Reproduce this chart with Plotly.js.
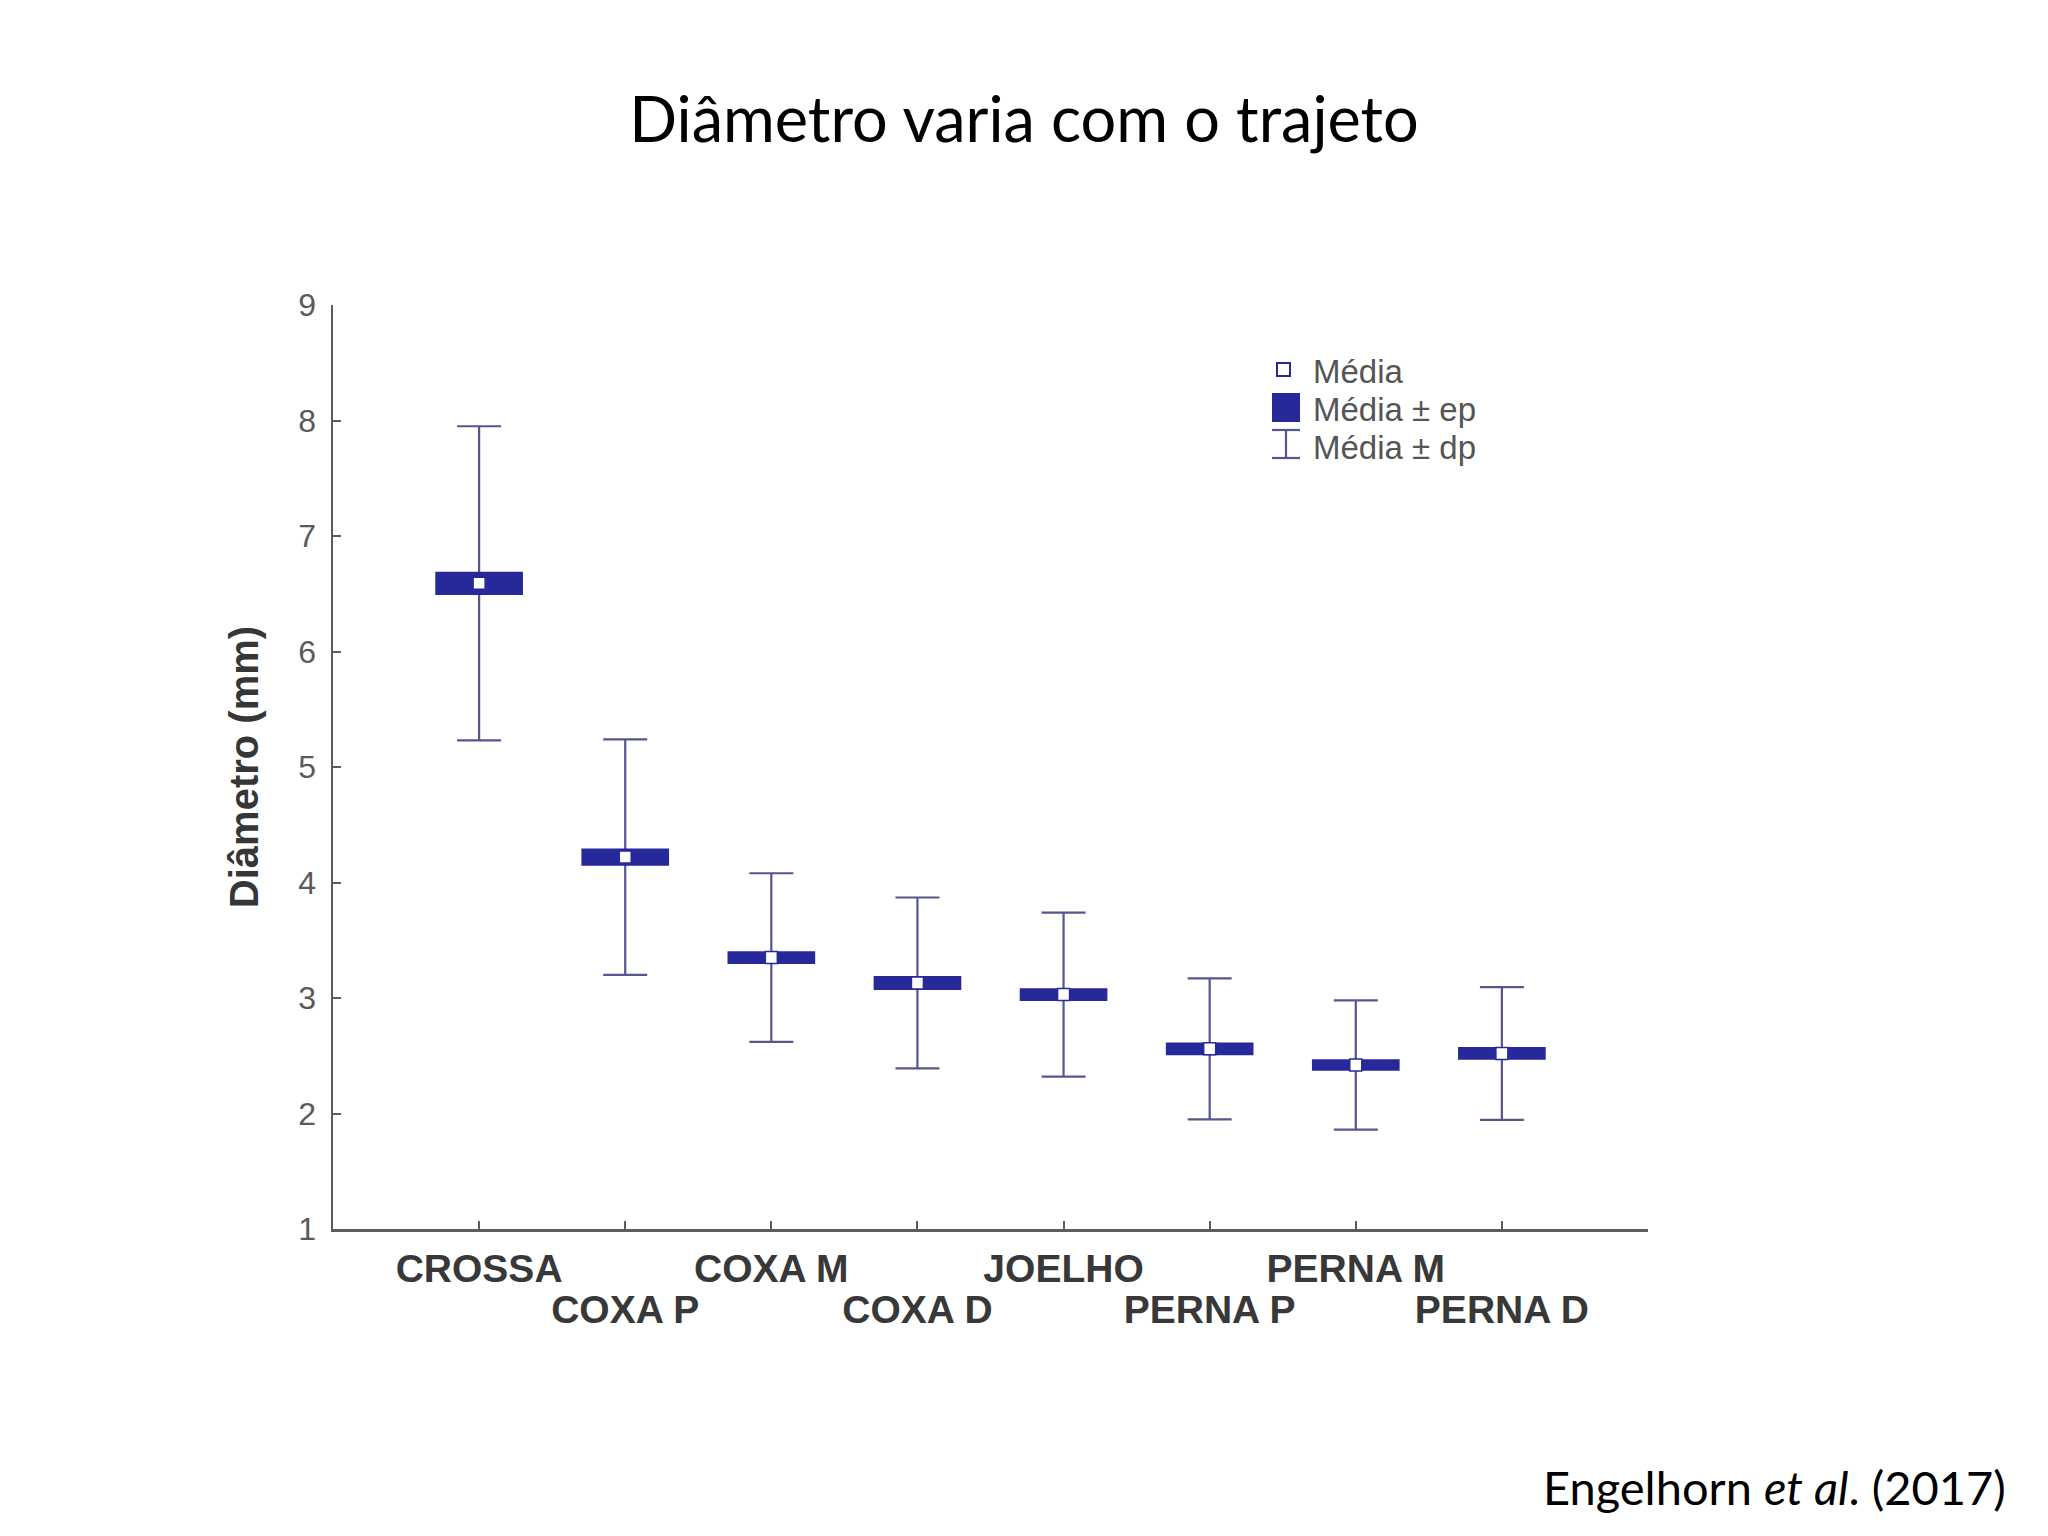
<!DOCTYPE html>
<html>
<head>
<meta charset="utf-8">
<script src="https://cdn.plot.ly/plotly-3.0.1.min.js"></script>
<style>
  html, body { margin: 0; padding: 0; background: #ffffff; }
  #grafico { width: 2048px; height: 1536px; }
</style>
</head>
<body>
<div id="grafico"></div>
<script>
// Segmentos do trajeto venoso
const categorias = ['CROSSA', 'COXA P', 'COXA M', 'COXA D', 'JOELHO', 'PERNA P', 'PERNA M', 'PERNA D'];
// Diâmetro médio (mm)
const media = [6.59, 4.22, 3.35, 3.13, 3.03, 2.56, 2.42, 2.52];
// Erro padrão (ep) e desvio padrão (dp), em mm
const erroPadrao = [0.10, 0.075, 0.055, 0.06, 0.055, 0.055, 0.05, 0.055];
const desvioPadrao = [1.36, 1.02, 0.73, 0.74, 0.71, 0.61, 0.56, 0.575];
// Marcas do eixo y
const ticksY = [1, 2, 3, 4, 5, 6, 7, 8, 9];

const corCaixa = '#27299a';
const corHaste = '#56568f';
const corEixo = '#5c5c5c';
const fonteGrafico = 'Liberation Sans, Arial, sans-serif';
const fonteSlide = 'Lato, Open Sans, sans-serif';

// Rótulos alternados em duas linhas: pares no eixo x, ímpares no eixo x2
const rotulosPares = categorias.map((c, i) => (i % 2 === 0 ? c : ''));
const valsImpares = categorias.filter((c, i) => i % 2 === 1);

// Média ± dp (hastes)
const hastes = {
  type: 'scatter',
  mode: 'markers',
  x: categorias,
  y: media,
  xaxis: 'x',
  yaxis: 'y',
  marker: { size: 1, opacity: 0 },
  error_y: {
    type: 'data',
    array: desvioPadrao,
    symmetric: true,
    color: corHaste,
    thickness: 2.2,
    width: 22
  },
  hoverinfo: 'skip'
};

// Média ± ep (caixas)
const caixas = {
  type: 'bar',
  x: categorias,
  y: erroPadrao.map(e => 2 * e),
  base: media.map((m, i) => m - erroPadrao[i]),
  xaxis: 'x2',
  yaxis: 'y',
  width: 0.6,
  marker: { color: corCaixa, line: { width: 0 } },
  hoverinfo: 'skip'
};

// Média (quadrado aberto)
const medias = {
  type: 'scatter',
  mode: 'markers',
  x: categorias,
  y: media,
  xaxis: 'x2',
  yaxis: 'y',
  marker: { symbol: 'square', size: 12, color: '#ffffff', line: { color: corCaixa, width: 1.5 } },
  hoverinfo: 'skip'
};

// Legenda desenhada à mão (símbolos + textos), em coordenadas do papel
const px = v => (v - 333) / 1315;
const py = v => (1229 - v) / 924;

const formas = [
  { type: 'rect', xref: 'paper', yref: 'paper', x0: px(1277), x1: px(1290), y0: py(363), y1: py(376),
    line: { color: corCaixa, width: 2 }, fillcolor: '#ffffff' },
  { type: 'rect', xref: 'paper', yref: 'paper', x0: px(1272), x1: px(1300), y0: py(393), y1: py(422),
    line: { width: 0 }, fillcolor: corCaixa },
  { type: 'line', xref: 'paper', yref: 'paper', x0: px(1286), x1: px(1286), y0: py(430), y1: py(458),
    line: { color: corHaste, width: 2.2 } },
  { type: 'line', xref: 'paper', yref: 'paper', x0: px(1272), x1: px(1300), y0: py(430), y1: py(430),
    line: { color: corHaste, width: 2.2 } },
  { type: 'line', xref: 'paper', yref: 'paper', x0: px(1272), x1: px(1300), y0: py(458), y1: py(458),
    line: { color: corHaste, width: 2.2 } }
];

const textoLegenda = (texto, y) => ({
  text: texto, xref: 'paper', yref: 'paper', x: px(1311), y: py(y),
  xanchor: 'left', yanchor: 'middle', showarrow: false,
  font: { family: fonteGrafico, size: 33, color: '#555555' }
});

const anotacoes = [
  textoLegenda('Média', 371),
  textoLegenda('Média ± ep', 409),
  textoLegenda('Média ± dp', 447),
  {
    text: 'Engelhorn <i>et al</i>. (2017)',
    xref: 'paper', yref: 'paper', x: px(2008), y: py(1487),
    xanchor: 'right', yanchor: 'middle', showarrow: false,
    font: { family: fonteSlide, size: 47, color: '#000000' }
  }
];

const eixoXBase = {
  type: 'category',
  categoryorder: 'array',
  categoryarray: categorias,
  range: [-1, 8],
  showgrid: false,
  zeroline: false,
  fixedrange: true
};

const layout = {
  width: 2048,
  height: 1536,
  paper_bgcolor: '#ffffff',
  plot_bgcolor: '#ffffff',
  showlegend: false,
  margin: { l: 333, r: 400, t: 305, b: 307, pad: 0 },
  title: {
    text: 'Diâmetro varia com o trajeto',
    font: { family: fonteSlide, size: 63, color: '#000000' },
    xref: 'container', yref: 'container',
    x: 0.5, xanchor: 'center',
    y: 1 - 120 / 1536, yanchor: 'middle'
  },
  xaxis: Object.assign({}, eixoXBase, {
    showline: true,
    linecolor: corEixo,
    linewidth: 2.5,
    ticks: 'inside',
    ticklen: 8,
    tickwidth: 2,
    tickcolor: corEixo,
    tickmode: 'array',
    tickvals: categorias,
    ticktext: rotulosPares,
    ticklabelstandoff: 4,
    tickfont: { family: fonteGrafico, size: 39, color: '#383838', weight: 'bold' }
  }),
  xaxis2: Object.assign({}, eixoXBase, {
    overlaying: 'x',
    anchor: 'y',
    side: 'bottom',
    showline: false,
    ticks: '',
    tickmode: 'array',
    tickvals: valsImpares,
    ticktext: valsImpares,
    ticklabelstandoff: 54,
    tickfont: { family: fonteGrafico, size: 39, color: '#383838', weight: 'bold' }
  }),
  yaxis: {
    range: [1, 9],
    showline: true,
    linecolor: corEixo,
    linewidth: 2.5,
    showgrid: false,
    zeroline: false,
    ticks: 'inside',
    ticklen: 8,
    tickwidth: 2,
    tickcolor: corEixo,
    tickmode: 'array',
    tickvals: ticksY,
    ticktext: ticksY.map(String),
    ticklabelstandoff: 8,
    tickfont: { family: fonteGrafico, size: 32, color: '#5a5a5a' },
    title: {
      text: 'Diâmetro (mm)',
      standoff: 28,
      font: { family: fonteGrafico, size: 40, color: '#363636', weight: 'bold' }
    },
    fixedrange: true
  },
  shapes: formas,
  annotations: anotacoes
};

Plotly.newPlot('grafico', [hastes, caixas, medias], layout, { displayModeBar: false, staticPlot: true });
</script>
</body>
</html>
